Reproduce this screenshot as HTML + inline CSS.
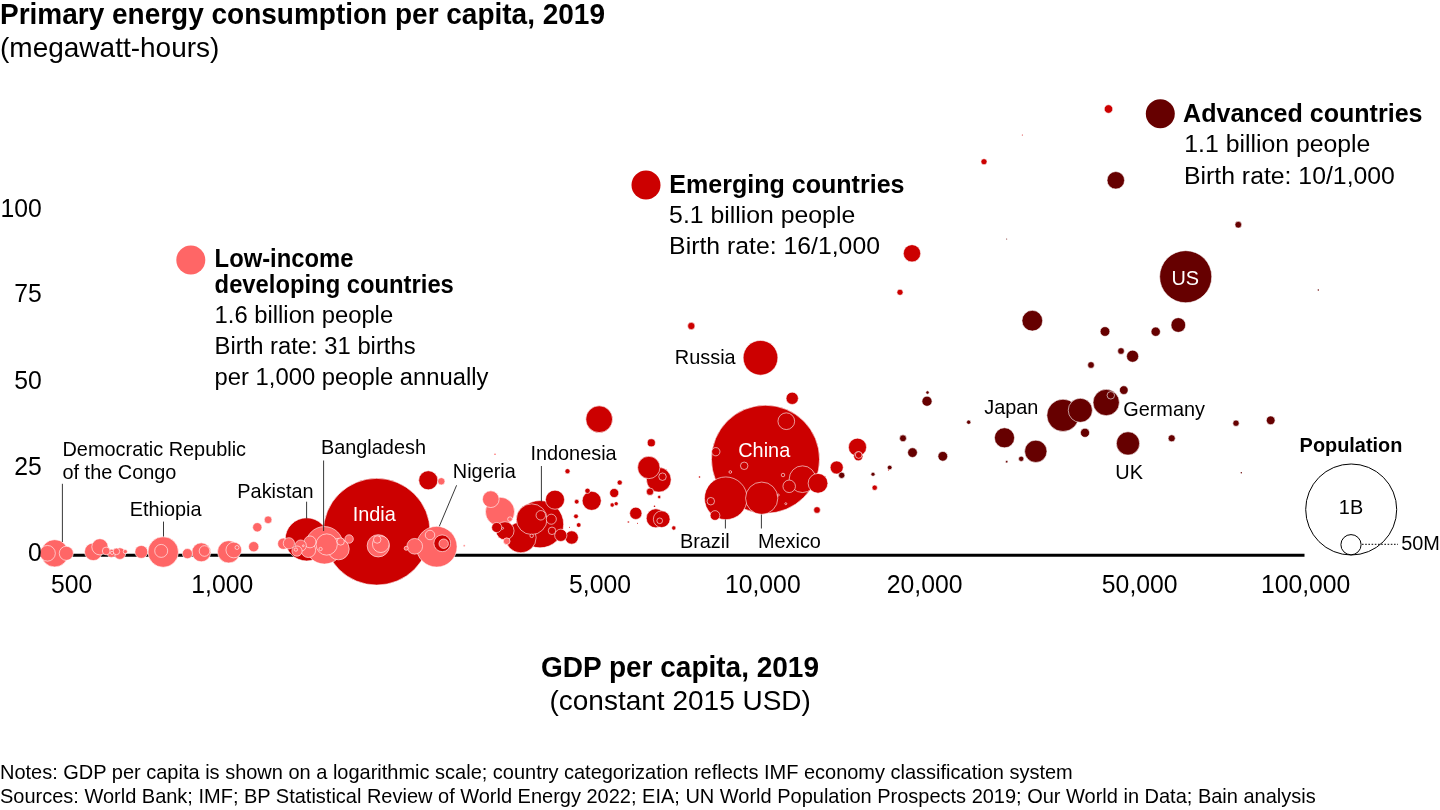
<!DOCTYPE html>
<html lang="en"><head><meta charset="utf-8"><title>Primary energy consumption per capita, 2019</title>
<style>html,body{margin:0;padding:0;background:#fff}body{width:1440px;height:810px;overflow:hidden}svg{display:block}text{font-family:"Liberation Sans",Arial,sans-serif;fill:#000}.b{font-weight:bold}.w{fill:#fff}.t{font-size:28px}.a{font-size:24.75px}.l{font-size:23.8px}.m{font-size:24.8px}.m2{font-size:25.05px}.c{font-size:19.9px}.n{font-size:20px}.ld{stroke:#222;stroke-width:0.9;fill:none}</style></head><body>
<svg width="1440" height="810" viewBox="0 0 1440 810">
<line x1="40" y1="555.25" x2="1304.5" y2="555.25" stroke="#000" stroke-width="2.9"/>
<g stroke="#fff" stroke-width="0.6">
<circle cx="765.5" cy="459.3" r="54.05" fill="#CC0000"/>
<circle cx="376.7" cy="531.7" r="53.35" fill="#CC0000"/>
<circle cx="1185.7" cy="276.7" r="26.05" fill="#660000"/>
<circle cx="540" cy="524.2" r="23.65" fill="#CC0000"/>
<circle cx="306.7" cy="539.4" r="21.55" fill="#CC0000"/>
<circle cx="725.8" cy="498.3" r="21.35" fill="#CC0000"/>
<circle cx="436.7" cy="546.7" r="20.35" fill="#FF6666"/>
<circle cx="324.4" cy="545.3" r="18.75" fill="#FF6666"/>
<circle cx="760.5" cy="357.8" r="17.35" fill="#CC0000"/>
<circle cx="761.7" cy="498.2" r="16.15" fill="#CC0000"/>
<circle cx="1063" cy="415.3" r="16.15" fill="#660000"/>
<circle cx="520.8" cy="537.5" r="15.35" fill="#CC0000"/>
<circle cx="531.7" cy="519.2" r="15.35" fill="#CC0000"/>
<circle cx="163.2" cy="552" r="15.25" fill="#FF6666"/>
<circle cx="500" cy="511.7" r="14.55" fill="#FF6666"/>
<circle cx="54.7" cy="553.3" r="13.65" fill="#FF6666"/>
<circle cx="599.2" cy="419.2" r="13.35" fill="#CC0000"/>
<circle cx="802.5" cy="479.2" r="13.35" fill="#CC0000"/>
<circle cx="1106.2" cy="402.5" r="13.15" fill="#660000"/>
<circle cx="658.8" cy="479.7" r="12.35" fill="#CC0000"/>
<circle cx="1080.3" cy="410.3" r="12.05" fill="#660000"/>
<circle cx="1128" cy="443.4" r="11.65" fill="#660000"/>
<circle cx="228.7" cy="551.8" r="11.15" fill="#FF6666"/>
<circle cx="378.3" cy="545.8" r="11.15" fill="#FF6666"/>
<circle cx="648.8" cy="467.5" r="11.15" fill="#CC0000"/>
<circle cx="1035.8" cy="451.3" r="11.15" fill="#660000"/>
<circle cx="338.5" cy="549.1" r="10.75" fill="#FF6666"/>
<circle cx="326.7" cy="544.5" r="10.65" fill="#FF6666"/>
<circle cx="1032.3" cy="320.7" r="10.35" fill="#660000"/>
<circle cx="1004.5" cy="437.8" r="10.05" fill="#660000"/>
<circle cx="818" cy="483.3" r="9.85" fill="#CC0000"/>
<circle cx="428.3" cy="480.3" r="9.55" fill="#CC0000"/>
<circle cx="555" cy="499.7" r="9.55" fill="#CC0000"/>
<circle cx="591.7" cy="500.8" r="9.55" fill="#CC0000"/>
<circle cx="655.8" cy="518.3" r="9.55" fill="#CC0000"/>
<circle cx="201.3" cy="552.3" r="9.45" fill="#FF6666"/>
<circle cx="505" cy="530.8" r="9.05" fill="#CC0000"/>
<circle cx="857.5" cy="447.2" r="9.05" fill="#CC0000"/>
<circle cx="93.3" cy="551.8" r="8.8" fill="#FF6666"/>
<circle cx="1115.8" cy="180.3" r="8.75" fill="#660000"/>
<circle cx="912" cy="253.3" r="8.65" fill="#CC0000"/>
<circle cx="380.8" cy="544.2" r="8.35" fill="#FF6666"/>
<circle cx="490.8" cy="499.2" r="8.35" fill="#FF6666"/>
<circle cx="442.2" cy="543.3" r="8.35" fill="#CC0000"/>
<circle cx="661.7" cy="519.2" r="8.35" fill="#CC0000"/>
<circle cx="786.3" cy="421.2" r="8.35" fill="#CC0000"/>
<circle cx="99.9" cy="546.8" r="8.1" fill="#FF6666"/>
<circle cx="47.5" cy="553.3" r="7.85" fill="#FF6666"/>
<circle cx="233.8" cy="550" r="7.85" fill="#FF6666"/>
<circle cx="414.7" cy="546.3" r="7.85" fill="#FF6666"/>
<circle cx="308.3" cy="550.2" r="7.35" fill="#FF6666"/>
<circle cx="1178.3" cy="325" r="7.35" fill="#660000"/>
<circle cx="66.3" cy="553.3" r="7.05" fill="#FF6666"/>
<circle cx="571.7" cy="537.5" r="6.65" fill="#CC0000"/>
<circle cx="836.7" cy="467.5" r="6.55" fill="#CC0000"/>
<circle cx="161.2" cy="550.9" r="6.5" fill="#FF6666"/>
<circle cx="141.3" cy="551.9" r="6.45" fill="#FF6666"/>
<circle cx="789.2" cy="486.3" r="6.25" fill="#CC0000"/>
<circle cx="560.8" cy="535.3" r="6.15" fill="#CC0000"/>
<circle cx="635.8" cy="513.3" r="6.15" fill="#CC0000"/>
<circle cx="792.2" cy="398.3" r="6.15" fill="#CC0000"/>
<circle cx="1132.6" cy="356.2" r="6.05" fill="#660000"/>
<circle cx="310" cy="541.9" r="5.95" fill="#FF6666"/>
<circle cx="119.9" cy="553.6" r="5.8" fill="#FF6666"/>
<circle cx="283.3" cy="543.7" r="5.65" fill="#FF6666"/>
<circle cx="288.9" cy="543.3" r="5.65" fill="#FF6666"/>
<circle cx="300.7" cy="545.6" r="5.65" fill="#FF6666"/>
<circle cx="204.5" cy="551" r="5.3" fill="#FF6666"/>
<circle cx="253.7" cy="546.7" r="5.15" fill="#FF6666"/>
<circle cx="297" cy="551.1" r="5.15" fill="#FF6666"/>
<circle cx="187.4" cy="553.6" r="5.05" fill="#FF6666"/>
<circle cx="496.7" cy="527.5" r="5.05" fill="#CC0000"/>
<circle cx="551.3" cy="519.2" r="5.05" fill="#CC0000"/>
<circle cx="927" cy="401.2" r="5.05" fill="#660000"/>
<circle cx="715" cy="515.5" r="4.85" fill="#CC0000"/>
<circle cx="912.5" cy="452.6" r="4.85" fill="#660000"/>
<circle cx="942.8" cy="456.3" r="4.85" fill="#660000"/>
<circle cx="1105" cy="331.5" r="4.85" fill="#660000"/>
<circle cx="430" cy="535" r="4.75" fill="#FF6666"/>
<circle cx="443.7" cy="543.7" r="4.75" fill="#FF6666"/>
<circle cx="540.8" cy="515.3" r="4.75" fill="#CC0000"/>
<circle cx="257.3" cy="527.3" r="4.65" fill="#FF6666"/>
<circle cx="1155.7" cy="331.7" r="4.65" fill="#660000"/>
<circle cx="614.2" cy="493" r="4.55" fill="#CC0000"/>
<circle cx="858.3" cy="456.3" r="4.55" fill="#CC0000"/>
<circle cx="1085" cy="432.8" r="4.55" fill="#660000"/>
<circle cx="1123.8" cy="390.1" r="4.35" fill="#660000"/>
<circle cx="1270.7" cy="420.3" r="4.35" fill="#660000"/>
<circle cx="349.1" cy="539" r="4.25" fill="#FF6666"/>
<circle cx="1108.5" cy="109" r="4.25" fill="#CC0000"/>
<circle cx="715.8" cy="451.7" r="4.15" fill="#CC0000"/>
<circle cx="111.4" cy="553.3" r="4.1" fill="#FF6666"/>
<circle cx="651.3" cy="442.8" r="4.05" fill="#CC0000"/>
<circle cx="106.2" cy="551" r="3.9" fill="#FF6666"/>
<circle cx="268.1" cy="519.8" r="3.85" fill="#FF6666"/>
<circle cx="377.2" cy="539.5" r="3.75" fill="#FF6666"/>
<circle cx="552" cy="530.8" r="3.75" fill="#CC0000"/>
<circle cx="662.5" cy="476.7" r="3.75" fill="#CC0000"/>
<circle cx="744.2" cy="465.8" r="3.75" fill="#CC0000"/>
<circle cx="710.8" cy="501.2" r="3.75" fill="#CC0000"/>
<circle cx="1110.8" cy="395.3" r="3.75" fill="#660000"/>
<circle cx="340.7" cy="541.5" r="3.65" fill="#FF6666"/>
<circle cx="441.3" cy="481.3" r="3.65" fill="#FF6666"/>
<circle cx="650" cy="491.7" r="3.65" fill="#CC0000"/>
<circle cx="691.3" cy="326" r="3.65" fill="#CC0000"/>
<circle cx="1171.7" cy="438.3" r="3.55" fill="#660000"/>
<circle cx="903" cy="438.3" r="3.45" fill="#660000"/>
<circle cx="506.7" cy="541.2" r="3.35" fill="#FF6666"/>
<circle cx="858.7" cy="455" r="3.35" fill="#CC0000"/>
<circle cx="817" cy="510" r="3.35" fill="#CC0000"/>
<circle cx="1091" cy="365" r="3.35" fill="#660000"/>
<circle cx="1121" cy="351" r="3.35" fill="#660000"/>
<circle cx="1238.3" cy="224.7" r="3.35" fill="#660000"/>
<circle cx="116.4" cy="551.4" r="3.3" fill="#FF6666"/>
<circle cx="841.7" cy="475.3" r="3.15" fill="#660000"/>
<circle cx="1236" cy="423.2" r="3.15" fill="#660000"/>
<circle cx="900" cy="292.3" r="3.05" fill="#CC0000"/>
<circle cx="984" cy="161.7" r="3.05" fill="#CC0000"/>
<circle cx="659.7" cy="520.8" r="2.85" fill="#CC0000"/>
<circle cx="587.5" cy="490.8" r="2.65" fill="#CC0000"/>
<circle cx="874.7" cy="487.7" r="2.65" fill="#CC0000"/>
<circle cx="1021.2" cy="458.8" r="2.65" fill="#660000"/>
<circle cx="567.5" cy="471.2" r="2.55" fill="#CC0000"/>
<circle cx="619.7" cy="482.5" r="2.55" fill="#CC0000"/>
<circle cx="510" cy="519.2" r="2.35" fill="#FF6666"/>
<circle cx="576.7" cy="501.7" r="2.35" fill="#CC0000"/>
<circle cx="576" cy="516.3" r="2.35" fill="#CC0000"/>
<circle cx="578.7" cy="525" r="2.35" fill="#CC0000"/>
<circle cx="889.7" cy="467.5" r="2.35" fill="#660000"/>
<circle cx="612.2" cy="505" r="2.15" fill="#CC0000"/>
<circle cx="673.8" cy="528" r="2.15" fill="#CC0000"/>
<circle cx="968.7" cy="422.2" r="2.15" fill="#660000"/>
<circle cx="125.3" cy="551.6" r="2.1" fill="#FF6666"/>
<circle cx="406.2" cy="548.3" r="2.05" fill="#FF6666"/>
<circle cx="616.2" cy="503.7" r="2.05" fill="#CC0000"/>
<circle cx="873" cy="474.2" r="2.05" fill="#660000"/>
<circle cx="237" cy="547.5" r="2.0" fill="#FF6666"/>
<circle cx="531.7" cy="535.8" r="1.75" fill="#CC0000"/>
<circle cx="783" cy="475" r="1.75" fill="#CC0000"/>
<circle cx="295.9" cy="549.6" r="1.65" fill="#FF6666"/>
<circle cx="320.6" cy="549" r="1.65" fill="#FF6666"/>
<circle cx="659.2" cy="497" r="1.65" fill="#CC0000"/>
<circle cx="927.5" cy="392.5" r="1.65" fill="#660000"/>
<circle cx="112.1" cy="552.9" r="1.6" fill="#FF6666"/>
<circle cx="730.3" cy="472" r="1.35" fill="#CC0000"/>
<circle cx="1006.7" cy="461.7" r="1.2" fill="#660000"/>
<circle cx="464.2" cy="545.8" r="1" fill="#FF6666"/>
<circle cx="502.6" cy="528.3" r="1.0" fill="#CC0000"/>
<circle cx="628.3" cy="522" r="1" fill="#CC0000"/>
<circle cx="778.3" cy="495" r="1" fill="#CC0000"/>
<circle cx="785.8" cy="503.7" r="1" fill="#CC0000"/>
<circle cx="303.3" cy="545.8" r="0.9" fill="#FF6666"/>
<circle cx="495" cy="454.2" r="0.8" fill="#FF6666" stroke="none"/>
<circle cx="654.5" cy="506.2" r="0.8" fill="#CC0000" stroke="none"/>
<circle cx="699.5" cy="477" r="0.8" fill="#CC0000" stroke="none"/>
<circle cx="1318.3" cy="290" r="0.7" fill="#660000" stroke="none"/>
<circle cx="1241.3" cy="472.8" r="0.7" fill="#660000" stroke="none"/>
<circle cx="888.5" cy="470" r="0.6" fill="#CC0000" stroke="none"/>
<circle cx="569.5" cy="527.3" r="0.5" fill="#CC0000" stroke="none"/>
<circle cx="637.5" cy="523.3" r="0.5" fill="#CC0000" stroke="none"/>
<circle cx="1022.3" cy="135" r="0.5" fill="#CC0000" stroke="none"/>
<circle cx="1006.7" cy="239" r="0.5" fill="#660000" stroke="none"/>
<circle cx="1028.3" cy="413.3" r="0.4" fill="#CC0000" stroke="none"/>
</g>
<circle cx="190.8" cy="260" r="14.5" fill="#FF6666"/>
<circle cx="646" cy="185" r="14.5" fill="#CC0000"/>
<circle cx="1160.3" cy="113.7" r="14.5" fill="#660000"/>
<line class="ld" x1="62.4" y1="483.8" x2="62.4" y2="542"/>
<line class="ld" x1="163.5" y1="521.6" x2="163.5" y2="536.5"/>
<line class="ld" x1="306.6" y1="501.7" x2="306.6" y2="518.5"/>
<line class="ld" x1="323.6" y1="460.5" x2="323.6" y2="531"/>
<line class="ld" x1="456.6" y1="485.3" x2="439.3" y2="526.3"/>
<line class="ld" x1="541.4" y1="466" x2="541.4" y2="501.5"/>
<line class="ld" x1="725.4" y1="519.5" x2="725.4" y2="528.5"/>
<line class="ld" x1="761.4" y1="514.5" x2="761.4" y2="528.5"/>
<circle cx="1351.2" cy="509.5" r="45.5" fill="none" stroke="#000" stroke-width="1"/>
<circle cx="1351" cy="544.7" r="10.1" fill="#fff" stroke="#000" stroke-width="1"/>
<line x1="1362" y1="544.3" x2="1398" y2="544.3" stroke="#000" stroke-width="1" stroke-dasharray="1.6 1.6"/>
<text transform="translate(0 23.9) scale(1 1.03)" class="t b">Primary energy consumption per capita, 2019</text>
<text x="0" y="57.4" class="t">(megawatt-hours)</text>
<text transform="translate(41.8 217.0) scale(1 1.07)" class="a" text-anchor="end">100</text>
<text transform="translate(41.8 302.1) scale(1 1.07)" class="a" text-anchor="end">75</text>
<text transform="translate(41.8 388.8) scale(1 1.07)" class="a" text-anchor="end">50</text>
<text transform="translate(41.8 475.0) scale(1 1.07)" class="a" text-anchor="end">25</text>
<text transform="translate(41.8 561.3) scale(1 1.07)" class="a" text-anchor="end">0</text>
<text transform="translate(71.7 593) scale(1 1.07)" class="a" text-anchor="middle">500</text>
<text transform="translate(222.3 593) scale(1 1.07)" class="a" text-anchor="middle">1,000</text>
<text transform="translate(600 593) scale(1 1.07)" class="a" text-anchor="middle">5,000</text>
<text transform="translate(762.8 593) scale(1 1.07)" class="a" text-anchor="middle">10,000</text>
<text transform="translate(924.6 593) scale(1 1.07)" class="a" text-anchor="middle">20,000</text>
<text transform="translate(1139.7 593) scale(1 1.07)" class="a" text-anchor="middle">50,000</text>
<text transform="translate(1305.6 593) scale(1 1.07)" class="a" text-anchor="middle">100,000</text>
<text transform="translate(680 677.3) scale(1 1.04)" class="t b" text-anchor="middle">GDP per capita, 2019</text>
<text transform="translate(680.2 710.1) scale(1 0.98)" class="t" text-anchor="middle">(constant 2015 USD)</text>
<text transform="translate(214.6 267.0) scale(1 1.05)" class="l b">Low-income</text>
<text transform="translate(214.6 292.5) scale(1 1.05)" class="l b">developing countries</text>
<text transform="translate(214.6 323.2) scale(1 1.04)" class="l">1.6 billion people</text>
<text transform="translate(214.6 354) scale(1 1.04)" class="l">Birth rate: 31 births</text>
<text transform="translate(214.6 384.6) scale(1 1.04)" class="l">per 1,000 people annually</text>
<text x="669.3" y="192.6" class="m2 b">Emerging countries</text>
<text transform="translate(669.1 223.2) scale(1 0.98)" class="m">5.1 billion people</text>
<text transform="translate(669.1 254.1) scale(1 0.98)" class="m">Birth rate: 16/1,000</text>
<text x="1183.1" y="121.7" class="m2 b">Advanced countries</text>
<text transform="translate(1184.3 152.4) scale(1 0.975)" class="m">1.1 billion people</text>
<text transform="translate(1184 183.8) scale(1 0.985)" class="m">Birth rate: 10/1,000</text>
<text transform="translate(62.5 455.7) scale(1 1.04)" class="c">Democratic Republic</text>
<text transform="translate(62.5 479.1) scale(1 1.04)" class="c">of the Congo</text>
<text transform="translate(129.7 515.5) scale(1 1.04)" class="c">Ethiopia</text>
<text transform="translate(237.3 497.7) scale(1 1.04)" class="c">Pakistan</text>
<text transform="translate(320.9 454.1) scale(1 1.04)" class="c">Bangladesh</text>
<text transform="translate(452.8 478.3) scale(1 1.04)" class="c">Nigeria</text>
<text transform="translate(530.4 460.2) scale(1 1.04)" class="c">Indonesia</text>
<text transform="translate(374.2 521) scale(1 1.04)" class="c w" text-anchor="middle">India</text>
<text transform="translate(764.2 456.9) scale(1 1.04)" class="c w" text-anchor="middle">China</text>
<text transform="translate(1185.3 285.3) scale(1 1.04)" class="c w" text-anchor="middle">US</text>
<text transform="translate(674.8 363.6) scale(1 1.04)" class="c">Russia</text>
<text transform="translate(679.9 547.6) scale(1 1.04)" class="c">Brazil</text>
<text transform="translate(757.9 547.6) scale(1 1.04)" class="c">Mexico</text>
<text transform="translate(984.2 414.3) scale(1 1.04)" class="c">Japan</text>
<text transform="translate(1123.2 416.4) scale(1 1.04)" class="c">Germany</text>
<text transform="translate(1115.3 478.9) scale(1 1.04)" class="c">UK</text>
<text transform="translate(1351 451.6) scale(1 1.04)" class="c b" text-anchor="middle">Population</text>
<text transform="translate(1351 513.8) scale(1 1.04)" class="c" text-anchor="middle">1B</text>
<text transform="translate(1401.2 549.5) scale(1 1.04)" class="c">50M</text>
<text transform="translate(0 779.1) scale(1 1.04)" class="n">Notes: GDP per capita is shown on a logarithmic scale; country categorization reflects IMF economy classification system</text>
<text transform="translate(0 803.3) scale(1 1.04)" class="n">Sources: World Bank; IMF; BP Statistical Review of World Energy 2022; EIA; UN World Population Prospects 2019; Our World in Data; Bain analysis</text>
</svg></body></html>
